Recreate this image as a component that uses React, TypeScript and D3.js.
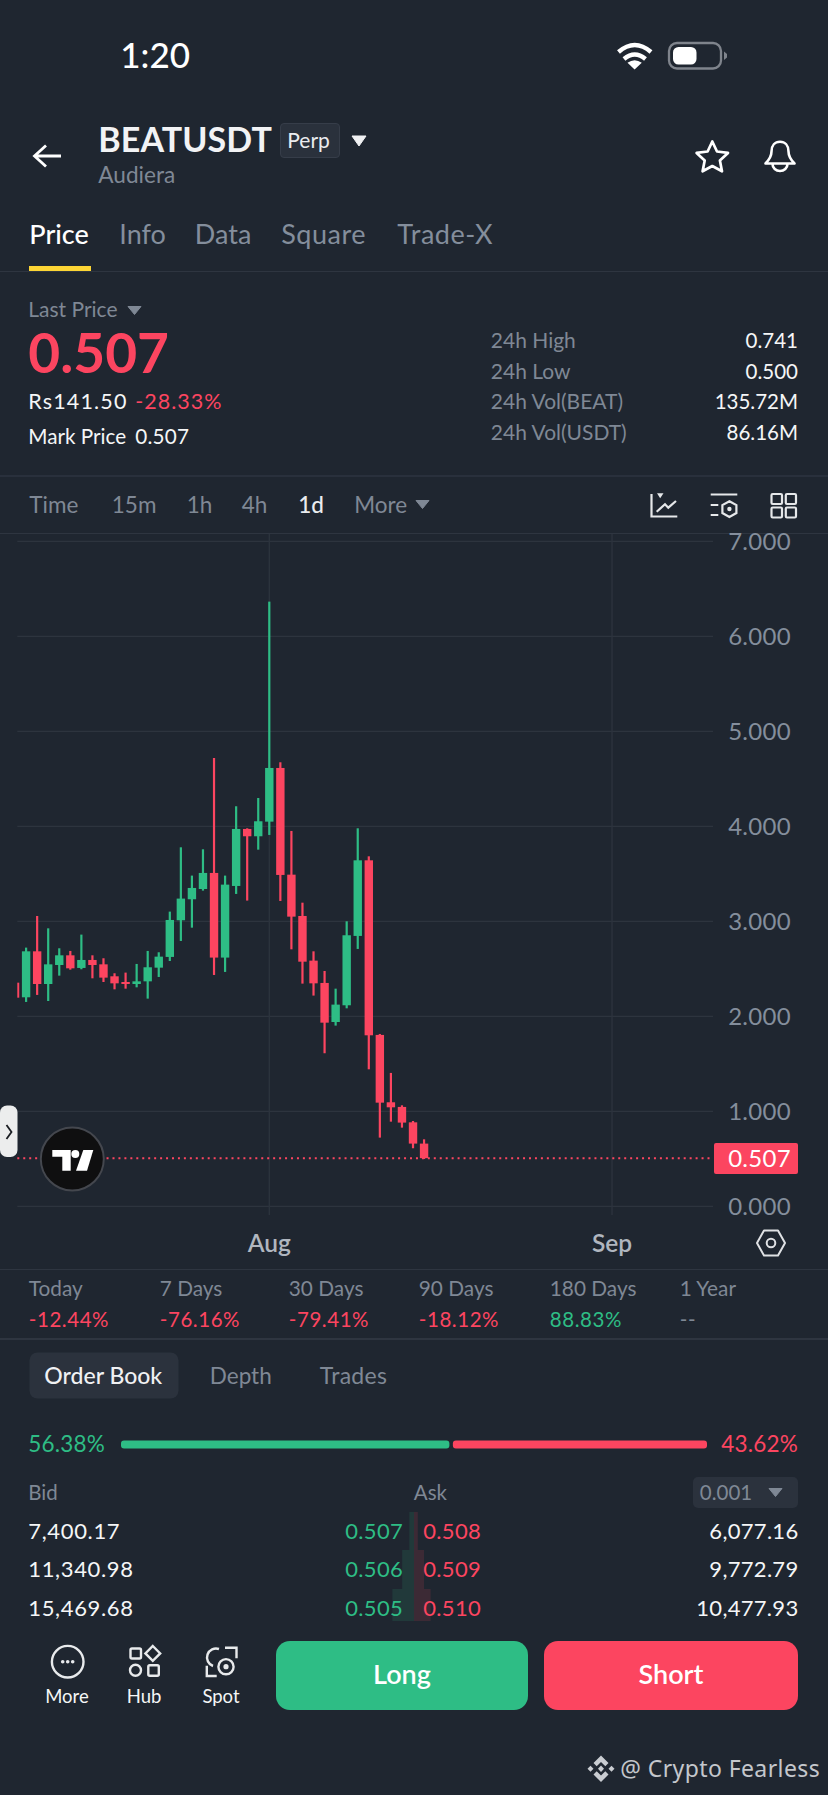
import React from "react";
import * as d3 from "d3";

const W = 828, H = 1795;
const BG = "#1f2630", GREEN = "#2ebd85", RED = "#fc4560", GRID = "#2d343e", LINE = "#2e3540";
const GREY = "#848e9c", GREY2 = "#7f8895", WHITE = "#f5f6f7";
const FONT = "Lato, sans-serif";

// Daily candles, index 0 sits 22 days before Aug 1; first one is clipped by the pane edge
const firstIndex = -1;
const opens = [2.354,2.2,2.684,2.34,2.54,2.642,2.509,2.593,2.547,2.421,2.361,2.34,2.368,2.512,2.625,3.011,3.232,3.34,3.509,2.618,3.372,3.972,3.895,4.049,4.614,3.491,3.056,2.586,2.351,1.94,2.116,2.846,3.642,1.804,1.095,1.046,0.884,0.66];
const closes = [2.196,2.684,2.34,2.547,2.642,2.505,2.593,2.54,2.407,2.347,2.34,2.368,2.516,2.628,3.014,3.239,3.351,3.509,2.618,3.386,3.972,3.895,4.053,4.614,3.488,3.049,2.575,2.347,1.933,2.123,2.853,3.642,1.8,1.091,1.042,0.881,0.66,0.507];
const highs = [2.354,2.723,3.056,2.926,2.716,2.688,2.86,2.642,2.611,2.453,2.46,2.551,2.688,2.674,3.102,3.779,3.481,3.758,4.719,3.481,4.211,3.979,4.298,6.365,4.674,3.951,3.196,2.684,2.477,2.291,3.0,3.979,3.684,1.814,1.404,1.063,0.898,0.705];
const lows = [2.196,2.151,2.225,2.161,2.428,2.491,2.495,2.4,2.361,2.284,2.291,2.305,2.186,2.414,2.582,2.793,2.933,3.323,2.435,2.467,3.288,3.218,3.754,3.909,3.214,2.705,2.344,2.218,1.611,1.902,2.084,2.709,1.442,0.723,0.891,0.828,0.611,0.498];
const lastPrice = 0.507;
const priceTicks = [0,1,2,3,4,5,6,7];
const monthLabels = ["Aug","Sep"];
const monthIndex = [22,53];

const tabs = ["Price","Info","Data","Square","Trade-X"];
const tabX = [30,120,195.5,282,398];
const tabSpacing = [0,0,0,0.5,0.5];
const statLabels = ["24h High","24h Low","24h Vol(BEAT)","24h Vol(USDT)"];
const statValues = ["0.741","0.500","135.72M","86.16M"];
const intervals = ["Time","15m","1h","4h","1d","More"];
const intervalX = [30,112.5,187.5,242.5,299,355];
const periods = ["Today","7 Days","30 Days","90 Days","180 Days","1 Year"];
const periodX = [29.5,160.5,289.5,419.5,550.5,680.5];
const periodValues = ["-12.44%","-76.16%","-79.41%","-18.12%","88.83%","--"];
const bidQty = [7400.17,11340.98,15469.68];
const bidPx = ["0.507","0.506","0.505"];
const askQty = [6077.16,9772.79,10477.93];
const askPx = ["0.508","0.509","0.510"];
const bidShare = 56.38, askShare = 43.62;

const x = d3.scaleLinear().domain([22,53]).range([269.3,612]);
const y = d3.scaleLinear().domain([0,7]).range([1206.3,541.3]);
const fmtQty = d3.format(",.2f");
const cumBid = Array.from(d3.cumsum(bidQty)), cumAsk = Array.from(d3.cumsum(askQty));
const depth = d3.scaleLinear().domain([0,d3.max(cumBid)!]).range([0,21.6]);
const share = d3.scaleLinear().domain([0,bidShare+askShare]).range([121,707]);

type TP = {x:number;y:number;s:number;c?:string;w?:number;a?:string;children:any;ls?:number;f?:string};
const T = ({x,y,s,c=WHITE,w=400,a="start",children,ls,f=FONT}:TP) =>
  <text x={a==="start"?x-0.7:x} y={y} fontSize={s} fill={c} fontWeight={w} textAnchor={a} fontFamily={f} letterSpacing={ls}>{children}</text>;
const Tri = ({x0,x1,y0,y1,c}:{x0:number;x1:number;y0:number;y1:number;c:string}) =>
  <path d={`M${x0} ${y0}H${x1}L${(x0+x1)/2} ${y1}Z`} fill={c} stroke={c} strokeWidth={1} strokeLinejoin="round"/>;

const starPath = d3.range(10).map(i=>{
  const r=i%2?8:16.5,t=-Math.PI/2+i*Math.PI/5;
  return `${i?"L":"M"}${(712.3+r*Math.cos(t)).toFixed(1)} ${(158+r*Math.sin(t)).toFixed(1)}`;
}).join("")+"Z";

export default function App(){
  const rowY = [1538.5,1577,1615.5];
  const rowTop = [1512,1550,1589];
  const rowBot = [1550,1589,1621];
  return (
    <svg width={W} height={H} viewBox={`0 0 ${W} ${H}`} style={{position:"absolute",left:0,top:0,background:BG}}>
      <defs><clipPath id="pane"><rect x={17.3} y={534} width={696} height={682}/></clipPath></defs>
      <rect width={W} height={H} fill={BG}/>

      {/* status bar */}
      <T x={121} y={68} s={35} w={500} c="#fff">1:20</T>
      <g fill="none" stroke="#fff" strokeWidth={4.4}>
        <path d="M618.5 52 Q634.7 38 651 52"/>
        <path d="M624 59 Q634.7 50 645.5 59"/>
      </g>
      <path d="M634.6 69.5L627.5 62.8Q634.6 57.5 641.8 62.8Z" fill="#fff"/>
      <rect x={669} y={43} width={52} height={25.5} rx={8} fill="none" stroke="#7f848c" strokeWidth={2.3}/>
      <rect x={673} y={47} width={23.5} height={17.5} rx={5.5} fill="#fff"/>
      <path d="M724 51.5L727 54V57.5L724 60Z" fill="#7f848c"/>

      {/* header */}
      <path d="M61 156H35M46 145.5L34.5 156L46 166.5" fill="none" stroke="#fff" strokeWidth={2.8}/>
      <T x={99} y={152} s={34} w={700} c="#f2f3f5" ls={0.1}>BEATUSDT</T>
      <rect x={280.5} y={123.5} width={59} height={34} rx={3.5} fill="#2a313c" stroke="#363d49"/>
      <T x={288} y={148} s={21} c="#eaecef">Perp</T>
      <Tri x0={352} x1={366} y0={136} y1={146} c="#f0f1f3"/>
      <T x={99} y={183} s={22.6} c={GREY2}>Audiera</T>
      <path d={starPath} fill="none" stroke="#fff" strokeWidth={2.7} strokeLinejoin="round"/>
      <path d="M765.5 163.5C769 160 771.5 157 771.5 151.5C771.5 145.5 775 141.8 780 141.8C785 141.8 788.5 145.5 788.5 151.5C788.5 157 791 160 794.5 163.5ZM772.5 164A7.5 7 0 0 0 787.5 164" fill="none" stroke="#fff" strokeWidth={2.6} strokeLinejoin="round"/>

      {/* tabs */}
      {tabs.map((t,i)=><T key={t} x={tabX[i]} y={244} s={27} ls={tabSpacing[i]} w={i===0?500:400} c={i===0?"#fff":GREY}>{t}</T>)}
      <rect x={29} y={266} width={62} height={5} fill="#fcd535"/>
      <line x1={0} x2={W} y1={271.5} y2={271.5} stroke={LINE} strokeWidth={1.2}/>

      {/* price block */}
      <T x={29} y={317} s={21} c={GREY2}>Last Price</T>
      <Tri x0={128} x1={141} y0={306.5} y1={314.5} c={GREY2}/>
      <T x={29} y={373} s={55} w={700} c={RED}>0.507</T>
      <T x={29} y={408.5} s={21.5} ls={1.15}>Rs141.50</T>
      <T x={136} y={408.5} s={21.5} c={RED} ls={1}>-28.33%</T>
      <T x={29} y={444} s={20.7}>Mark Price</T>
      <T x={136} y={444} s={20.7} ls={0.2}>0.507</T>
      {statLabels.map((t,i)=><g key={t}>
        <T x={491.5} y={348+i*30.7} s={21} c={GREY2}>{t}</T>
        <T x={798} y={348+i*30.7} s={20.5} a="end">{statValues[i]}</T>
      </g>)}
      <line x1={0} x2={W} y1={476} y2={476} stroke={LINE} strokeWidth={1.4}/>

      {/* interval row */}
      {intervals.map((t,i)=><T key={t} x={intervalX[i]} y={513} s={22.5} w={i===4?500:400} c={i===4?"#eaecef":GREY2}>{t}</T>)}
      <Tri x0={416} x1={429} y0={500.5} y1={508.5} c={GREY2}/>
      <g fill="none" stroke="#e6e8ea" strokeWidth={2.2}>
        <path d="M651.5 494V516.5H677.3M656.7 511.7L665 504.3L668.3 507.7L676 501"/>
        <path d="M710.7 494.5H737.3M710.7 505H718.3M710.7 515H718.3"/>
        <path d="M729.4 501.2L736.4 505.1V513L729.4 516.9L722.4 513V505.1Z"/>
        <rect x={771.5} y={494} width={10.5} height={10} rx={1.2}/><rect x={785.8} y={494} width={10.2} height={10} rx={1.2}/>
        <rect x={771.5} y={507.5} width={10.5} height={10} rx={1.2}/><rect x={785.8} y={507.5} width={10.2} height={10} rx={1.2}/>
      </g>
      <path d="M657 493.3H663.5L660.2 498.2Z" fill="#e6e8ea"/>
      <circle cx={729.4} cy={509} r={2.2} fill="#e6e8ea"/>
      <line x1={0} x2={W} y1={533.5} y2={533.5} stroke={LINE} strokeWidth={1}/>

      {/* chart grid */}
      {priceTicks.map(v=><line key={v} x1={17.3} x2={713} y1={y(v)} y2={y(v)} stroke={GRID} strokeWidth={1.3}/>)}
      {monthIndex.map(m=><line key={m} x1={x(m)} x2={x(m)} y1={534} y2={1215} stroke={GRID} strokeWidth={1.3}/>)}
      {priceTicks.map(v=><T key={v} x={791} y={y(v)+8.5} s={24} a="end" c={GREY} ls={0.3}>{v.toFixed(3)}</T>)}

      {/* candles */}
      <g clipPath="url(#pane)">
        {opens.map((o,k)=>{
          const i=k+firstIndex, c=closes[k], col=c>=o?GREEN:RED, cx=x(i);
          const top=y(Math.max(o,c)), bot=y(Math.min(o,c));
          return <g key={k}>
            <rect x={cx-1.1} width={2.2} y={y(highs[k])} height={y(lows[k])-y(highs[k])} fill={col}/>
            <rect x={cx-4.2} width={8.4} y={top} height={Math.max(bot-top,1.5)} fill={col}/>
          </g>;
        })}
      </g>

      {/* last price */}
      <line x1={17.3} x2={713} y1={y(lastPrice)} y2={y(lastPrice)} stroke={RED} strokeWidth={2} strokeDasharray="2 3.95"/>
      <rect x={714} y={1143} width={84} height={31} rx={2} fill={RED}/>
      <T x={791} y={1167} s={24} a="end" c="#fff" ls={0.3}>{lastPrice.toFixed(3)}</T>

      {/* tv logo & handle */}
      <circle cx={72.3} cy={1159} r={31.5} fill="#0f0f10" stroke="#44474e" strokeWidth={2}/>
      <path d="M52.3 1150H70.7V1170.7H62.3V1156.7H52.3Z" fill="#fff"/>
      <circle cx={75.3} cy={1154} r={4} fill="#fff"/>
      <path d="M83.3 1150H93.3L87 1170.7H76Z" fill="#fff"/>
      <rect x={0} y={1105.5} width={17.5} height={51.5} rx={7} fill="#eceded"/>
      <path d="M6.5 1125L11.5 1132L6.5 1139" fill="none" stroke="#1a1d22" strokeWidth={1.8}/>

      {/* x axis */}
      {monthLabels.map((m,i)=><T key={m} x={x(monthIndex[i])} y={1252} s={24.5} w={600} a="middle" c="#b0b6bf">{m}</T>)}
      <path d="M764 1230.5H778L785 1243L778 1255.5H764L757 1243Z" fill="none" stroke="#dfe1e4" strokeWidth={2} strokeLinejoin="round"/>
      <circle cx={771} cy={1243} r={4.3} fill="none" stroke="#dfe1e4" strokeWidth={2}/>
      <line x1={0} x2={W} y1={1269.5} y2={1269.5} stroke={LINE} strokeWidth={1.2}/>

      {/* period change */}
      {periods.map((p,i)=><g key={p}>
        <T x={periodX[i]} y={1295.5} s={20.8} c={GREY2}>{p}</T>
        <T x={periodX[i]} y={1326.5} s={20.5} ls={0.55} c={periodValues[i]==="--"?GREY2:periodValues[i].startsWith("-")?RED:GREEN}>{periodValues[i]}</T>
      </g>)}
      <line x1={0} x2={W} y1={1339} y2={1339} stroke={LINE} strokeWidth={2}/>

      {/* order book */}
      <rect x={29.5} y={1352.5} width={149} height={46} rx={8} fill="#2b323d"/>
      <T x={45} y={1383.5} s={23} w={500} c="#f0f1f3">Order Book</T>
      <T x={210.5} y={1383.5} s={22.5} c={GREY2}>Depth</T>
      <T x={320.5} y={1383.5} s={23} ls={0.3} c={GREY2}>Trades</T>
      <T x={29} y={1452} s={22.5} c={GREEN} ls={0.2}>{bidShare.toFixed(2)}%</T>
      <T x={798} y={1452} s={22.5} a="end" c={RED} ls={0.2}>{askShare.toFixed(2)}%</T>
      <rect x={share(0)} y={1440.5} width={share(bidShare)-share(0)-2} height={8} rx={3} fill={GREEN}/>
      <rect x={share(bidShare)+1.5} y={1440.5} width={share(100)-share(bidShare)-1.5} height={8} rx={3} fill={RED}/>
      <T x={29} y={1500} s={20.5} c={GREY2}>Bid</T>
      <T x={414.5} y={1500} s={20.5} c={GREY2}>Ask</T>
      <rect x={693} y={1477} width={105} height={31} rx={5} fill="#2b323d"/>
      <T x={700.5} y={1500} s={20.5} c={GREY2}>0.001</T>
      <Tri x0={769} x1={782} y0={1488.5} y1={1496.5} c={GREY2}/>
      {bidQty.map((q,i)=><g key={i}>
        <rect x={414-depth(cumBid[i])} y={rowTop[i]} width={depth(cumBid[i])} height={rowBot[i]-rowTop[i]} fill={GREEN} opacity={0.13}/>
        <rect x={414} y={rowTop[i]} width={depth(cumAsk[i])} height={rowBot[i]-rowTop[i]} fill={RED} opacity={0.13}/>
        <T x={29} y={rowY[i]} s={22} ls={0.65}>{fmtQty(q)}</T>
        <T x={403} y={rowY[i]} s={22} a="end" c={GREEN} ls={0.3}>{bidPx[i]}</T>
        <T x={424} y={rowY[i]} s={22} c={RED} ls={0.3}>{askPx[i]}</T>
        <T x={798.5} y={rowY[i]} s={22} a="end" ls={0.3}>{fmtQty(askQty[i])}</T>
      </g>)}

      {/* bottom nav */}
      <rect x={0} y={1622} width={W} height={173} fill={BG}/>
      <g fill="none" stroke="#e8eaec" strokeWidth={2.4}>
        <circle cx={67.7} cy={1661.7} r={15.8}/>
        <rect x={130.5} y={1648.5} width={10.5} height={10} rx={1.5}/>
        <path d="M152.8 1646L160.2 1653.4L152.8 1660.8L145.4 1653.4Z"/>
        <circle cx={135.5} cy={1670.2} r={5.5}/>
        <rect x={148.3} y={1665.3} width={10.5} height={10.5} rx={1.5}/>
        <path d="M206.8 1665.7V1676H216.7M225 1647.8H236.5V1658.3"/>
        <path d="M219 1649A8.8 8.8 0 0 0 213 1666"/>
        <circle cx={226} cy={1666.7} r={7.6}/>
        <circle cx={226} cy={1666.7} r={2.6} fill="#e8eaec" stroke="none"/>
      </g>
      <g fill="#e8eaec">{[-5,0,5].map(d=><circle key={d} cx={67.7+d} cy={1661.7} r={1.8}/>)}</g>
      <T x={67} y={1703} s={18.5} a="middle">More</T>
      <T x={144} y={1703} s={18.5} a="middle">Hub</T>
      <T x={221} y={1703} s={18.5} a="middle">Spot</T>
      <rect x={276} y={1641} width={252} height={69} rx={14} fill={GREEN}/>
      <rect x={544} y={1641} width={254} height={69} rx={14} fill={RED}/>
      <T x={402} y={1684} s={27} w={600} a="middle" c="#fff">Long</T>
      <T x={671} y={1684} s={27} w={600} a="middle" c="#fff">Short</T>

      {/* watermark */}
      <g fill="#c9ccd1">
        <path d="M601 1755.5L608.5 1763L605.3 1766.2L601 1762L596.7 1766.2L593.5 1763Z"/>
        <path d="M601 1782L608.5 1774.5L605.3 1771.3L601 1775.5L596.7 1771.3L593.5 1774.5Z"/>
        <path d="M601 1765.5L604 1768.7L601 1771.9L598 1768.7Z"/>
        <path d="M587.5 1768.7L590.5 1765.7L593.5 1768.7L590.5 1771.7Z"/>
        <path d="M608.5 1768.7L611.5 1765.7L614.5 1768.7L611.5 1771.7Z"/>
      </g>
      <T x={621} y={1777} s={23} c="#c4c7cc" f={"'Noto Sans', sans-serif"} ls={0.4}>@ Crypto Fearless</T>
    </svg>
  );
}
